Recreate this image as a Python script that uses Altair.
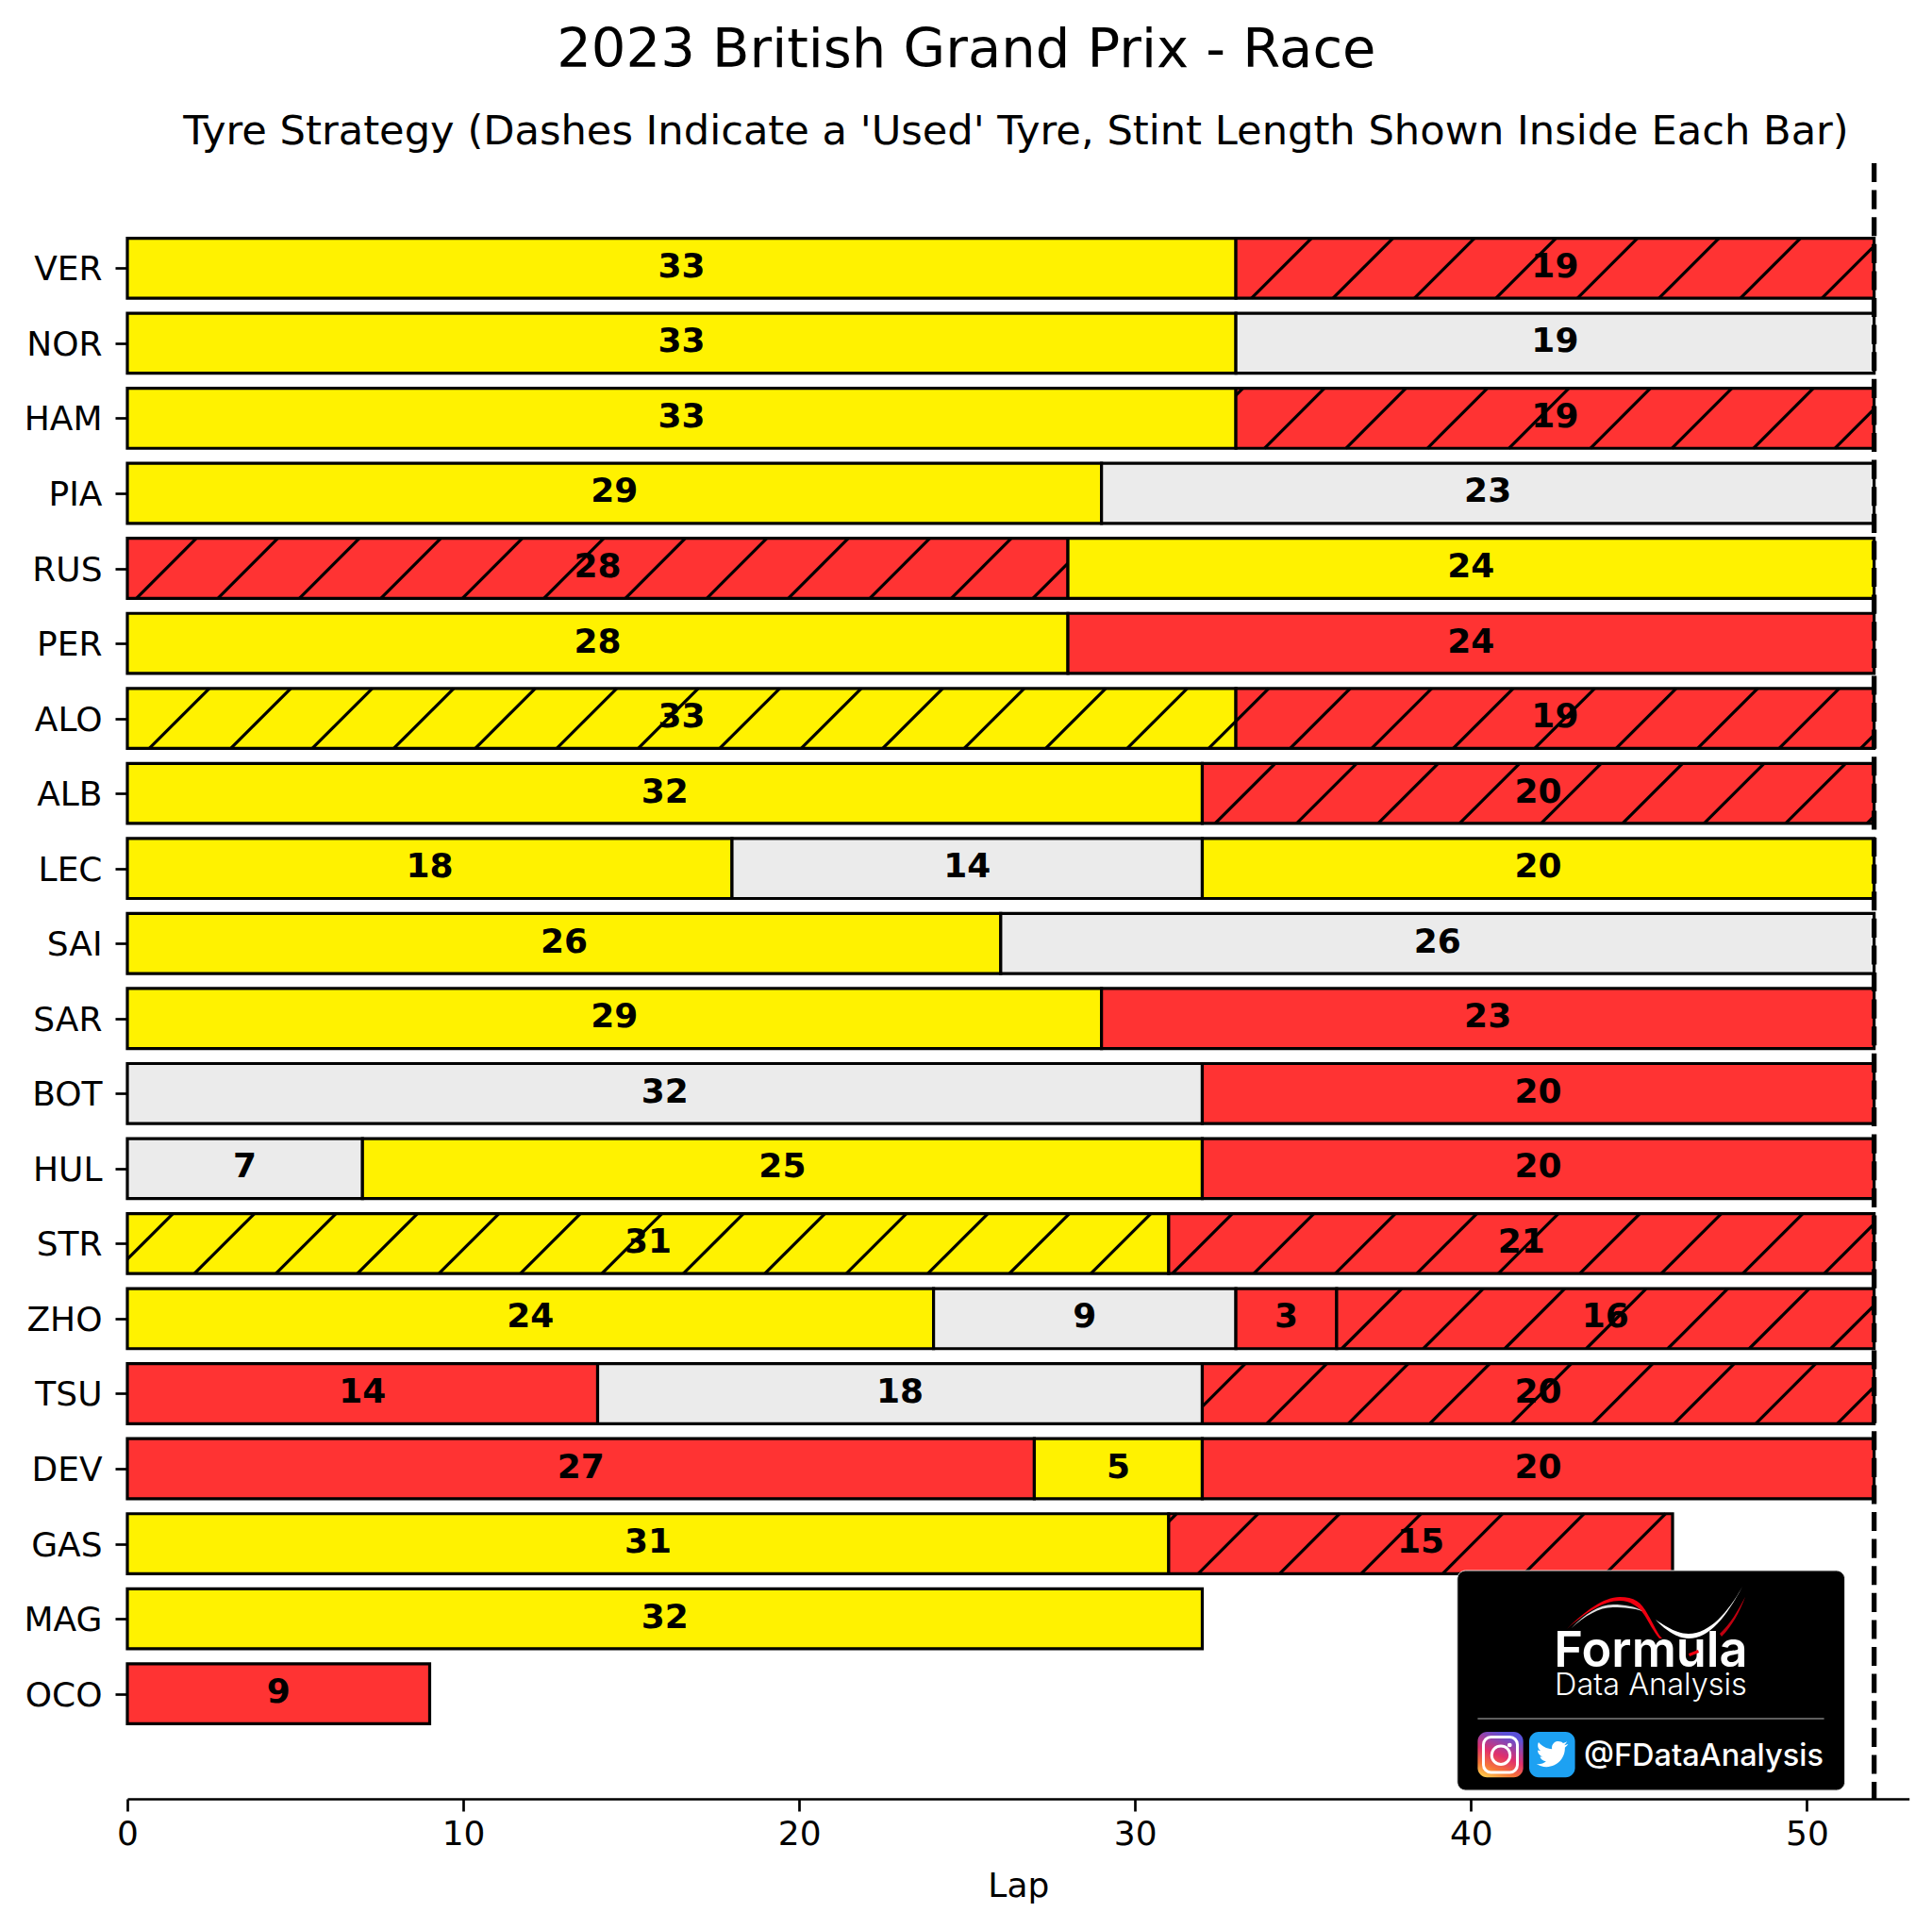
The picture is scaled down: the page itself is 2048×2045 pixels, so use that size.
import altair as alt
import pandas as pd

drivers = ["VER", "NOR", "HAM", "PIA", "RUS", "PER", "ALO", "ALB", "LEC", "SAI",
           "SAR", "BOT", "HUL", "STR", "ZHO", "TSU", "DEV", "GAS", "MAG", "OCO"]
stint_lengths = [[33, 19], [33, 19], [33, 19], [29, 23], [28, 24], [28, 24], [33, 19],
                 [32, 20], [18, 14, 20], [26, 26], [29, 23], [32, 20], [7, 25, 20],
                 [31, 21], [24, 9, 3, 16], [14, 18, 20], [27, 5, 20], [31, 15], [32], [9]]
compounds = [["M", "S"], ["M", "H"], ["M", "S"], ["M", "H"], ["S", "M"], ["M", "S"], ["M", "S"],
             ["M", "S"], ["M", "H", "M"], ["M", "H"], ["M", "S"], ["H", "S"], ["H", "M", "S"],
             ["M", "S"], ["M", "H", "S", "S"], ["S", "H", "S"], ["S", "M", "S"], ["M", "S"], ["M"], ["S"]]
used_tyre = [[0, 1], [0, 0], [0, 1], [0, 0], [1, 0], [0, 0], [1, 1],
             [0, 1], [0, 0, 0], [0, 0], [0, 0], [0, 0], [0, 0, 0],
             [1, 1], [0, 0, 0, 1], [0, 0, 1], [0, 0, 0], [0, 1], [0], [0]]
compound_names = ["S", "M", "H"]
compound_colors = ["#FF3333", "#FFF200", "#EBEBEB"]
race_laps = 52
x_ticks = [0, 10, 20, 30, 40, 50]

title = "2023 British Grand Prix - Race"
subtitle = "Tyre Strategy (Dashes Indicate a 'Used' Tyre, Stint Length Shown Inside Each Bar)"

FONT = "DejaVu Sans"
PLOT_LEFT = 135
PLOT_TOP = 173
PLOT_W = 1888.7
PLOT_H = 1734
BAR = 0.4

# hatch spacing (laps)
HATCH_K = 2.234
HATCH_PERIOD = 2.426
HATCH_PHASE = 14.95

stints = []
hatches = []
for row, lengths in enumerate(stint_lengths):
    start = 0
    for i, n in enumerate(lengths):
        stop = start + n
        stints.append({"driver": drivers[row], "row": row, "top": row - BAR, "bottom": row + BAR,
                       "start": start, "stop": stop, "mid": (start + stop) / 2,
                       "len": n, "compound": compounds[row][i]})
        if used_tyre[row][i]:
            for k in range(-5, 40):
                u = HATCH_PHASE + k * HATCH_PERIOD
                lap_b = u - HATCH_K * (row + BAR)
                lap_t = u - HATCH_K * (row - BAR)
                if lap_t <= start or lap_b >= stop:
                    continue
                x1, y1 = lap_b, row + BAR
                x2, y2 = lap_t, row - BAR
                if x1 < start:
                    x1, y1 = start, (u - start) / HATCH_K
                if x2 > stop:
                    x2, y2 = stop, (u - stop) / HATCH_K
                hatches.append({"x1": x1, "x2": x2, "y1": y1, "y2": y2})
        start = stop

df_stints = pd.DataFrame(stints)
df_hatch = pd.DataFrame(hatches)

x_scale = alt.Scale(domain=[0, 53.04], nice=False, zero=False)
y_scale = alt.Scale(domain=[-1.4, 20.4], reverse=True, nice=False, zero=False)
label_expr = "[" + ",".join("'%s'" % d for d in drivers) + "][datum.value]"

bars = (
    alt.Chart(df_stints)
    .mark_rect(stroke="black", strokeWidth=3.2)
    .encode(
        x=alt.X("start:Q", scale=x_scale,
                axis=alt.Axis(title="Lap", values=x_ticks, grid=False, format="d", labelFont=FONT,
                              labelFontSize=36, labelColor="black", labelPadding=8, tickSize=13,
                              tickWidth=2.7, tickColor="black", domainColor="black", domainWidth=2.7,
                              titleFont=FONT, titleFontSize=36, titleFontWeight="normal",
                              titleColor="black", titlePadding=20, labelFlush=False)),
        x2="stop:Q",
        y=alt.Y("top:Q", scale=y_scale,
                axis=alt.Axis(title=None, values=list(range(len(drivers))), labelExpr=label_expr,
                              grid=False, domain=False, labelFont=FONT, labelFontSize=36,
                              labelColor="black", labelPadding=14, labelOffset=1.5, tickSize=13,
                              tickWidth=2.7, tickColor="black")),
        y2="bottom:Q",
        fill=alt.Fill("compound:N", legend=None,
                      scale=alt.Scale(domain=compound_names, range=compound_colors)),
    )
)

hatch = (
    alt.Chart(df_hatch)
    .mark_rule(color="black", strokeWidth=3.2)
    .encode(x=alt.X("x1:Q", scale=x_scale), x2="x2:Q", y=alt.Y("y1:Q", scale=y_scale), y2="y2:Q")
)

end_line = (
    alt.Chart(pd.DataFrame({"lap": [race_laps]}))
    .mark_rule(color="black", strokeWidth=5.3, strokeDash=[20.1, 8.5])
    .encode(x=alt.X("lap:Q", scale=x_scale))
)

labels = (
    alt.Chart(df_stints)
    .mark_text(font=FONT, fontWeight="bold", fontSize=36, color="black", align="center", baseline="middle", dy=-1.5)
    .encode(x=alt.X("mid:Q", scale=x_scale), y=alt.Y("row:Q", scale=y_scale), text="len:Q")
)


def lx(x):
    return alt.value(x - PLOT_LEFT)


def ly(y):
    return alt.value(y - PLOT_TOP)


def box(x1, y1, x2, y2, **style):
    return alt.Chart(pd.DataFrame({"a": [0]})).mark_rect(**style).encode(
        x=lx(x1), x2=lx(x2), y=ly(y1), y2=ly(y2))


def words(txt, x, y, **style):
    return alt.Chart(pd.DataFrame({"t": [txt]})).mark_text(baseline="alphabetic", **style).encode(
        x=lx(x), y=ly(y), text="t:N")


def shape(path, x, y, color, scale=1.0):
    return alt.Chart(pd.DataFrame({"a": [0]})).mark_point(
        shape=path, filled=True, fill=color, opacity=1, strokeWidth=0, size=4 * scale * scale
    ).encode(x=lx(x), y=ly(y))


sub = words(subtitle, PLOT_LEFT + 942, 153, font=FONT, fontSize=43.2, color="black", align="center")

# logo box in the corner
swoosh_white = "M5,17 C15,28 28,37 40,37 C62,37 80,14 97,-18 C82,9 62,32 40,32 C28,32 15,24 5,17 Z"
swoosh_red = ("M-89,27 C-70,8 -50,-7 -33,-7 C-18,-7 -10,-2 -3,12 C3,22 7,32 12,37 L9,37 "
              "C3,30 -2,20 -7,12 C-13,3 -22,-3 -33,-3 C-50,-3 -70,10 -89,27 Z")
swoosh_thin = "M-84,26 C-70,11 -55,1 -40,1 C-28,1 -16,3 -9,8 C-18,5 -28,4 -40,4 C-55,4 -70,13 -84,26 Z"
swoosh_right = "M73,32 C84,22 92,8 100,-7 C94,9 86,24 75,35 Z"
swoosh_dash = "M40,53 L50,49 L51,52 L41,56 Z"
bird = ("M11.95,-7.43 L9.13,-6.65 L11.29,-9.38 C10.3,-8.8 9.3,-8.4 8.16,-8.2 C6.6,-9.8 3.5,-10.1 1.4,-8.6 "
        "C0,-7.4 -0.6,-5.5 -0.22,-3.71 C-4.31,-3.9 -7.93,-5.87 -10.36,-8.84 C-11.3,-7.2 -11.3,-4.3 -8.84,-2.27 "
        "L-11.07,-2.88 C-11.07,-0.5 -9.3,1.4 -7.12,2 L-9.33,2.09 C-8.7,3.9 -6.8,5.3 -4.73,5.51 "
        "C-6.4,6.9 -8.6,7.7 -10.83,7.61 L-12,7.55 C-9.8,9 -7.2,9.76 -4.44,9.76 C4.61,9.76 9.56,2.26 9.56,-4.23 "
        "L9.55,-4.86 C10.5,-5.5 11.4,-6.4 12,-7.41 Z")
insta_fill = alt.Gradient(
    gradient="linear", x1=0.1, y1=1, x2=0.5, y2=0,
    stops=[alt.GradientStop(offset=0, color="#FFD54F"), alt.GradientStop(offset=0.25, color="#F77737"),
           alt.GradientStop(offset=0.55, color="#E1306C"), alt.GradientStop(offset=1, color="#5B51D8")],
)

logo = [
    box(1544.8, 1665, 1955.6, 1898, fill="black", stroke="#DDDDDD", strokeWidth=1, cornerRadius=9),
    words("Formula", 1750, 1766.7, font="Inter", fontSize=52.4, fontWeight=600, color="white", align="center"),
    words("Data Analysis", 1750, 1797.5, font="Inter", fontSize=32.5, fontWeight=300, color="white", align="center"),
    shape(swoosh_red, 1750, 1700, "#F00010"),
    shape(swoosh_thin, 1750, 1700, "#DDDDDD"),
    shape(swoosh_right, 1750, 1700, "#C00010"),
    shape(swoosh_white, 1750, 1700, "white"),
    shape(swoosh_dash, 1750, 1700, "#F00010"),
    box(1566.4, 1821.5, 1933.6, 1822.5, fill="#BBBBBB"),
    box(1566.4, 1836, 1614.7, 1884.3, fill=insta_fill, cornerRadius=10),
    box(1572.5, 1841.5, 1608.5, 1879, filled=False, stroke="white", strokeWidth=3, cornerRadius=8),
    alt.Chart(pd.DataFrame({"a": [0]})).mark_point(shape="circle", color="white", size=380, strokeWidth=3, opacity=1)
    .encode(x=lx(1591), y=ly(1860.7)),
    alt.Chart(pd.DataFrame({"a": [0]})).mark_point(shape="circle", color="white", filled=True, size=22, opacity=1)
    .encode(x=lx(1600.3), y=ly(1850)),
    box(1621, 1836, 1669.6, 1884.3, fill="#1DA1F2", cornerRadius=10),
    shape(bird, 1645.5, 1859.5, "white", 1.4),
    words("@FDataAnalysis", 1679, 1871.7, font="Inter", fontSize=32.5, fontWeight=500, color="white", align="left"),
]

chart = (
    alt.layer(bars, hatch, end_line, labels, sub, *logo)
    .properties(
        width=PLOT_W,
        height=PLOT_H,
        autosize=alt.AutoSizeParams(type="none"),
        padding={"left": PLOT_LEFT - 8, "top": PLOT_TOP - 8, "right": 16, "bottom": 120},
        title=alt.TitleParams(text=title, font=FONT, fontSize=57.6, fontWeight="normal", color="black",
                              anchor="middle", dx=-55, offset=35),
    )
    .configure_view(strokeWidth=0)
)

chart.save("out.html", embed_options={"renderer": "svg", "actions": False})
